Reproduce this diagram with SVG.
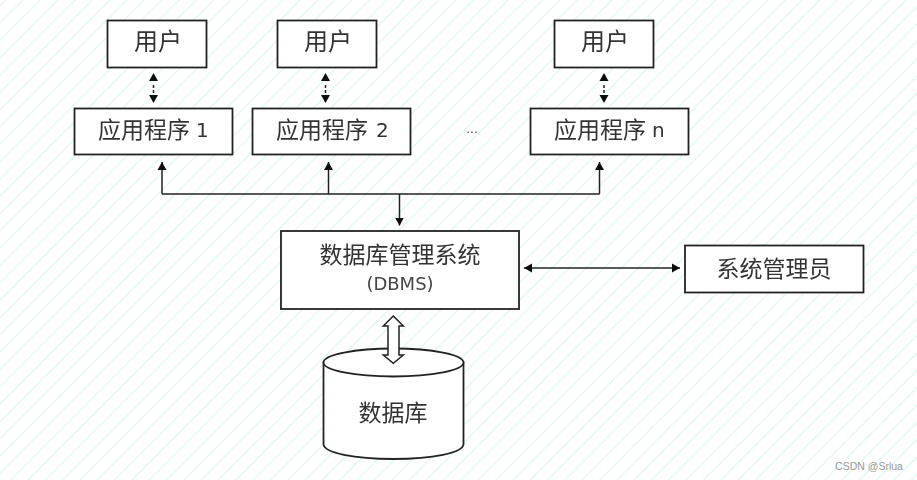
<svg xmlns="http://www.w3.org/2000/svg" width="917" height="480" viewBox="0 0 917 480">
<style>
.b{fill:#fff;stroke:#222;stroke-width:1.8}
.t{font-family:"Noto Sans CJK SC","DejaVu Sans",sans-serif;font-size:23px;font-weight:400;fill:#333;text-anchor:middle}
.u{font-size:24px}
.a{text-anchor:start}
.n{font-family:"DejaVu Sans",sans-serif;font-size:20px;fill:#333}
.l{fill:none;stroke:#222;stroke-width:1.5}
.d{fill:none;stroke:#222;stroke-width:1.5;stroke-dasharray:0 12 3 2 3 12}
.s{filter:url(#soft)}
</style>
<defs>
<pattern id="h" width="17.32" height="17.32" patternUnits="userSpaceOnUse" patternTransform="translate(5.74 0)">
<path d="M-2 19.320L19.320 -2M-2 2L2 -2M15.320 19.320L19.320 15.320" stroke="#dcf7ef" stroke-width="1.2" fill="none"/>
</pattern>
<filter id="soft" x="-5%" y="-5%" width="110%" height="110%"><feGaussianBlur stdDeviation="0.45"/></filter>
<marker id="a" markerWidth="9" markerHeight="10" refX="8" refY="5" orient="auto-start-reverse" markerUnits="userSpaceOnUse"><path d="M0 .5L8 5L0 9.500Z" fill="#111"/></marker>
</defs>
<rect width="917" height="480" fill="#fff"/>
<rect width="917" height="480" fill="url(#h)"/>
<g class="s">
<g id="connectors">
<path class="d" d="M153.500 73V103" marker-start="url(#a)" marker-end="url(#a)"/>
<path class="d" d="M325.500 73V103" marker-start="url(#a)" marker-end="url(#a)"/>
<path class="d" d="M604 73V103" marker-start="url(#a)" marker-end="url(#a)"/>
<path class="l" d="M162 194V162" marker-end="url(#a)"/>
<path class="l" d="M328.500 194V162" marker-end="url(#a)"/>
<path class="l" d="M599.500 194V162" marker-end="url(#a)"/>
<path class="l" d="M162 194H599.500"/>
<path class="l" d="M399.500 194V225.500" marker-end="url(#a)"/>
<path class="l" d="M524 268H680" marker-start="url(#a)" marker-end="url(#a)"/>
</g>
<g id="user1"><rect class="b" x="107.500" y="20.500" width="99" height="47"/><text class="t u" x="158" y="50">用户</text></g>
<g id="user2"><rect class="b" x="277.500" y="20.500" width="99" height="47"/><text class="t u" x="328" y="50">用户</text></g>
<g id="user3"><rect class="b" x="554.500" y="20.500" width="99" height="47"/><text class="t u" x="605" y="50">用户</text></g>
<g id="app1"><rect class="b" x="74.500" y="108.500" width="158" height="46"/><text class="t a" x="98" y="138">应用程序</text><text class="n" x="196" y="137">1</text></g>
<g id="app2"><rect class="b" x="252.500" y="108.500" width="158" height="46"/><text class="t a" x="276" y="138">应用程序</text><text class="n" x="376" y="137">2</text></g>
<text id="dots" x="472" y="133" font-family="Liberation Sans,sans-serif" font-size="14" fill="#555" text-anchor="middle">...</text>
<g id="appn"><rect class="b" x="530.500" y="108.500" width="158" height="46"/><text class="t a" x="554" y="138">应用程序</text><text class="n" x="652" y="137">n</text></g>
<g id="dbms"><rect class="b" x="281" y="231" width="238" height="78"/><text class="t" x="400" y="263">数据库管理系统</text><text x="400" y="290" font-family="DejaVu Sans,sans-serif" font-size="18" fill="#444" text-anchor="middle">(DBMS)</text></g>
<g id="admin"><rect class="b" x="685" y="245.500" width="178.500" height="47"/><text class="t" x="774" y="277">系统管理员</text></g>
<g id="db">
<path class="b" d="M323.500 362.500V444C323.500 453 355 459 393.500 459C432 459 463.500 453 463.500 444V362.500Z"/>
<ellipse class="b" cx="393.500" cy="362.500" rx="70" ry="14"/>
<text class="t" x="393" y="421">数据库</text>
</g>
<path id="dbarrow" d="M393.300 316L403.300 326H399V355H403.300L393.300 363.300L383.300 355H388V326H383.300Z" fill="#fff" stroke="#222" stroke-width="1.5"/>
</g>
<text id="wm" x="869" y="470" font-family="Liberation Sans,sans-serif" font-size="10.500" fill="#999" text-anchor="middle">CSDN @Srlua</text>
</svg>
